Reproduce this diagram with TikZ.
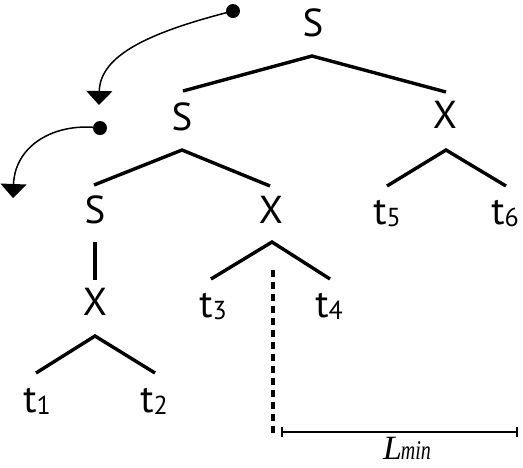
\documentclass[tikz,border=0pt]{standalone}
\usepackage{fontspec}
\setmainfont{PT Sans}
\newfontfamily\tmsfont{Liberation Serif}
\usepackage{graphicx}
\usetikzlibrary{arrows.meta}
\newcommand{\subd}[1]{{\fontsize{26}{26}\selectfont\raisebox{-2pt}{#1}}}
\begin{document}
\begin{tikzpicture}[x=1pt,y=-1pt,
  lbl/.style={inner sep=0pt,anchor=base,font=\fontsize{39}{39}\selectfont},
  edge/.style={line width=3.4pt},
  hint/.style={line width=1.5pt,-{Triangle[width=26pt,length=14pt]}},
  dotc/.style={circle,fill=black,inner sep=0pt,minimum size=14pt}]
\useasboundingbox (0,0) rectangle (523,467);
% labels
\node[lbl] (S0) at (313,36) {S};
\node[lbl] (S1) at (182,130) {S};
\node[lbl] (X1) at (445,128) {X};
\node[lbl] (S2) at (95,223) {S};
\node[lbl] (X2) at (271,223) {X};
\node[lbl] (X3) at (95,315) {X};
\node[lbl] (t1) at (37,412) {t\subd{1}};
\node[lbl] (t2) at (154,412) {t\subd{2}};
\node[lbl] (t3) at (213,317) {t\subd{3}};
\node[lbl] (t4) at (329,317) {t\subd{4}};
\node[lbl] (t5) at (387,224) {t\subd{5}};
\node[lbl] (t6) at (505,224) {t\subd{6}};
% tree edge coordinates
\coordinate (a0) at (312,56);
\coordinate (a0l) at (183,91);
\coordinate (a0r) at (446,92);
\coordinate (a1) at (182,150);
\coordinate (a1l) at (94,185);
\coordinate (a1r) at (270,186);
\coordinate (b1) at (446,150);
\coordinate (b1l) at (387,186);
\coordinate (b1r) at (506,186);
\coordinate (a2t) at (95,242);
\coordinate (a2b) at (95,280);
\coordinate (c3) at (95,336);
\coordinate (c3l) at (36,373);
\coordinate (c3r) at (155,373);
\coordinate (b2) at (272,242);
\coordinate (b2l) at (211,279);
\coordinate (b2r) at (330,279);
\draw[edge] (a0l) -- (a0) -- (a0r);
\draw[edge] (a1l) -- (a1) -- (a1r);
\draw[edge] (b1l) -- (b1) -- (b1r);
\draw[edge] (a2t) -- (a2b);
\draw[edge] (c3l) -- (c3) -- (c3r);
\draw[edge] (b2l) -- (b2) -- (b2r);
% dashed line and L_min
\coordinate (d0) at (273,270);
\coordinate (d1) at (273,437);
\draw[line width=3.2pt,dash pattern=on 7pt off 5pt] (d0) -- (d1);
\coordinate (m0) at (281,432);
\coordinate (m1) at (518,432);
\draw[line width=1.6pt,{Bar[width=10pt]}-{Bar[width=10pt]}] (m0) -- (m1);
\node[inner sep=0pt,anchor=base] (L) at (407,459) {\tmsfont\itshape\fontsize{34}{34}\selectfont L\kern-1pt\scalebox{1}[1.35]{\fontsize{20}{20}\selectfont min}};
% curved arrows
\node[dotc] (p1) at (233,11) {};
\coordinate (q1) at (99,105);
\draw[hint] (p1.center) .. controls (150,32) and (100,55) .. (q1);
\node[dotc] (p2) at (100,128) {};
\coordinate (q2) at (13,198);
\draw[hint] (p2.center) .. controls (55,122) and (15,145) .. (q2);
\end{tikzpicture}
\end{document}
